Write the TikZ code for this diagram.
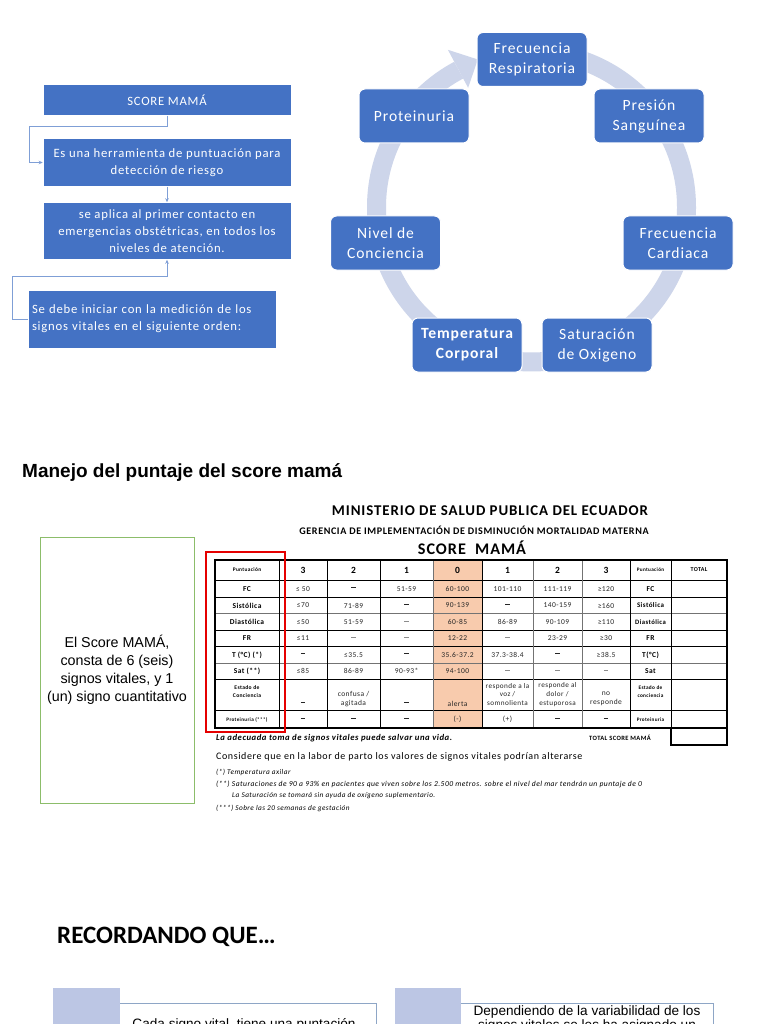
\documentclass[tikz,border=0pt]{standalone}
\usepackage{fontspec}
\setmainfont{Carlito}[LetterSpace=6]
\newfontfamily\arialf{Liberation Sans}
\usetikzlibrary{arrows.meta}
\definecolor{obl}{HTML}{4472C4}
\definecolor{ringc}{HTML}{CDD5EA}
\definecolor{connc}{HTML}{7F9FD6}
\definecolor{orng}{HTML}{F8CBAD}
\definecolor{grn}{HTML}{8CBD6A}
\definecolor{lav}{HTML}{BCC6E4}
\definecolor{bbord}{HTML}{8EA6C6}
\newcommand\dsh{\rule[2.3pt]{4.2pt}{1pt}}
\newcommand\dshl{\textcolor{black!45}{\rule[2.3pt]{4.2pt}{0.7pt}}}
\newcommand\trow[3]{\foreach \v [count=\i from 0] in {#3} {\pgfmathsetmacro\xx{{303,353.5,406.5,457.5,507.5,557.5,606}[\i]}\node[tval] (r#1c\i) at (\xx,#2) {\v};}}
\begin{document}
\begin{tikzpicture}[x=1pt,y=-1pt,
  flowbox/.style={fill=obl, draw=white, line width=0.5pt, text=white, align=center, inner sep=0pt, minimum width=248pt, font=\fontsize{12.7}{17}\selectfont},
  cycbox/.style={fill=obl, draw=white, line width=1pt, rounded corners=6pt, text=white, align=center, inner sep=0pt, minimum width=110pt, minimum height=54pt, font=\fontsize{15.6}{20}\selectfont},
  conn/.style={draw=connc, line width=0.9pt, -{Stealth[length=4pt,width=3.5pt]}},
  ringline/.style={draw=ringc, line width=19pt},
  tval/.style={font=\fontsize{7.5}{8.6}\selectfont, inner sep=0pt, align=center, text=black!85},
  tlab/.style={font=\bfseries\fontsize{7.5}{8.6}\selectfont, inner sep=0pt, align=center},
  tsmall/.style={font=\bfseries\fontsize{5.6}{8}\selectfont, inner sep=0pt, align=center},
  thead/.style={font=\bfseries\fontsize{9.5}{10}\selectfont, inner sep=0pt},
  note/.style={anchor=west, inner sep=0pt, font=\itshape\fontsize{7.3}{8}\selectfont}]
\useasboundingbox (0,0) rectangle (768,1024);
\clip (0,0) rectangle (768,1024);
\fill[white] (0,0) rectangle (768,1024);

% ---------- left flow ----------
\node[flowbox] (b1) [minimum height=31pt] at (167,100) {SCORE MAMÁ};
\node[flowbox, minimum height=48pt] (b2) at (167,162.5) {Es una herramienta de puntuación para\\detección de riesgo};
\node[flowbox, minimum height=57pt] (b3) at (167,231) {se aplica al primer contacto en\\emergencias obstétricas, en todos los\\niveles de atención.};
\node[flowbox, minimum height=58pt, minimum width=0pt, text width=240pt, align=left, inner xsep=4pt] (b4) at (152,319) {Se debe iniciar con la medición de los\\signos vitales en el siguiente orden:};
\draw[conn] (b1.south) -- ++(0,11) -| ([xshift=-13pt]b2.west) -- (b2.west);
\draw[conn] (b2.south) -- (b3.north);
\draw[conn] (b4.west) -- ++(-15,0) |- ([yshift=-17pt]b3.south) -- (b3.south);

% ---------- cycle ----------
\coordinate (C) at (531.5,207);
\draw[ringline] ([shift={(-88:155)}]C) arc[start angle=-88, end angle=242, radius=155];
\fill[ringc] ([shift={(242:135)}]C) -- ([shift={(242:178)}]C) -- ([shift={(250:157)}]C) -- cycle;
\node[cycbox] (fr) at (532,59.5) {Frecuencia\\Respiratoria};
\node[cycbox] (ps) at (649,116) {Presión\\Sanguínea};
\node[cycbox] (fc) at (678,243) {Frecuencia\\Cardiaca};
\node[cycbox] (so) at (597,345) {Saturación\\de Oxigeno};
\node[cycbox, font=\bfseries\fontsize{15.6}{20}\selectfont] (tc) at (467,345) {Temperatura\\Corporal};
\node[cycbox] (nc) at (385.5,243) {Nivel de\\Conciencia};
\node[cycbox] (pr) at (414,116) {Proteinuria};

% ---------- section 2 ----------
\node[anchor=west, inner sep=0pt, font=\arialf\bfseries\fontsize{19}{22}\selectfont] (t2) at (22,472) {Manejo del puntaje del score mamá};
\node[draw=grn, line width=0.7pt, minimum width=154pt, minimum height=266pt, align=center, font=\arialf\fontsize{14.3}{18}\selectfont] (gb) at (117,670) {El Score MAMÁ,\\consta de 6 (seis)\\signos vitales, y 1\\(un) signo cuantitativo};

\node[inner sep=0pt, font=\bfseries\fontsize{14.9}{16}\selectfont] (m1) at (490,511) {MINISTERIO DE SALUD PUBLICA DEL ECUADOR};
\node[inner sep=0pt, font=\bfseries\fontsize{10.1}{11}\selectfont] (m2) at (474,530) {GERENCIA DE IMPLEMENTACIÓN DE DISMINUCIÓN MORTALIDAD MATERNA};
\node[inner sep=0pt, font=\bfseries\fontsize{16.2}{19}\selectfont] (m3) at (472,548) {SCORE\ \ MAMÁ};

% table
\fill[orng] (433,560) rectangle (482,728);
\foreach \yy in {580.5,597,630,646.5,679,710} \draw[line width=0.7pt] (215,\yy) -- (727,\yy);
\foreach \yy in {613.5,663} \draw[line width=0.5pt, black!55] (215,\yy) -- (727,\yy);
\foreach \xx in {279,327,380,482,630,671} \draw[line width=0.7pt] (\xx,560) -- (\xx,728);
\foreach \xx in {433,533,582} \draw[line width=0.5pt, black!55] (\xx,560) -- (\xx,728);
\draw[line width=1.3pt] (215,560) rectangle (727,728);
\draw[line width=1.3pt] (671,728) rectangle (727,745);

\node[tsmall, font=\bfseries\fontsize{5.4}{7}\selectfont] (h0) at (247,570) {Puntuación};
\foreach \v [count=\i from 0] in {3,2,1,0,1,2,3} {\pgfmathsetmacro\xx{{303,353.5,406.5,457.5,507.5,557.5,606}[\i]}\node[thead] (hc\i) at (\xx,570) {\v};}
\node[tsmall, font=\bfseries\fontsize{5.2}{7}\selectfont] (h8) at (650.5,570) {Puntuación};
\node[tsmall, font=\bfseries\fontsize{6}{7}\selectfont] (h9) at (699,570) {TOTAL};

\node[tlab] (l1) at (247,589) {FC};
\trow{1}{589}{≤ 50,\dsh,51-59,60-100,101-110,111-119,≥120}
\node[tlab] (k1) at (650.5,589) {FC};
\node[tlab] (l2) at (247,605.5) {Sistólica};
\trow{2}{605.5}{≤70,71-89,\dsh,90-139,\dsh,140-159,≥160}
\node[tlab, font=\bfseries\fontsize{7}{8}\selectfont] (k2) at (650.5,605.5) {Sistólica};
\node[tlab] (l3) at (247,622) {Diastólica};
\trow{3}{622}{≤50,51-59,\dshl,60-85,86-89,90-109,≥110}
\node[tlab, font=\bfseries\fontsize{6.7}{8}\selectfont] (k3) at (650.5,622) {Diastólica};
\node[tlab] (l4) at (247,638.5) {FR};
\trow{4}{638.5}{≤11,\dshl,\dshl,12-22,\dshl,23-29,≥30}
\node[tlab] (k4) at (650.5,638.5) {FR};
\node[tlab] (l5) at (247,655) {T (°C) (*)};
\trow{5}{655}{\dsh,≤35.5,\dsh,35.6-37.2,37.3-38.4,\dsh,≥38.5}
\node[tlab] (k5) at (650.5,655) {T(°C)};
\node[tlab] (l6) at (247,671) {Sat (**)};
\trow{6}{671}{≤85,86-89,90-93*,94-100,\dshl,\dshl,\dshl}
\node[tlab] (k6) at (650.5,671) {Sat};

\node[tsmall] (l7) at (247,692) {Estado de\\Conciencia};
\node[tval] (e2) at (303,703.5) {\dsh};
\node[tval] (e3) at (353.5,699) {confusa /\\agitada};
\node[tval] (e4) at (406.5,703.5) {\dsh};
\node[tval] (e5) at (457.5,704) {alerta};
\node[tval, font=\fontsize{7.2}{8.6}\selectfont] (e6) at (507.5,694.5) {responde a la\\voz /\\somnolienta};
\node[tval, font=\fontsize{7.2}{8.6}\selectfont] (e7) at (557.5,694.5) {responde al\\dolor /\\estuporosa};
\node[tval] (e8) at (606,699) {no\\responde};
\node[tsmall, font=\bfseries\fontsize{5.3}{8}\selectfont] (k7) at (650.5,692) {Estado de\\conciencia};

\node[tsmall, font=\bfseries\fontsize{5.2}{8}\selectfont] (l8) at (247,719.5) {Proteinuria (***)};
\trow{8}{719.5}{\dsh,\dsh,\dsh,(-),(+),\dsh,\dsh}
\node[tsmall, font=\bfseries\fontsize{5.2}{8}\selectfont] (k8) at (650.5,719.5) {Proteinuria};

\node[tsmall, font=\bfseries\fontsize{6.5}{8}\selectfont] (tt) at (620,738) {TOTAL SCORE MAMÁ};
\node[anchor=west, inner sep=0pt, font=\bfseries\itshape\fontsize{8.7}{10}\selectfont] (n1) at (216,738) {La adecuada toma de signos vitales puede salvar una vida.};
\node[anchor=west, inner sep=0pt, font=\fontsize{10}{11}\selectfont] (n2) at (216,757) {Considere que en la labor de parto los valores de signos vitales podrían alterarse};
\node[note] (n3) at (216,772) {(*) Temperatura axilar};
\node[note, font=\itshape\fontsize{7.6}{8}\selectfont] (n4) at (216,784) {(**) Saturaciones de 90 a 93\% en pacientes que viven sobre los 2.500 metros. sobre el nivel del mar tendrán un puntaje de 0};
\node[note] (n5) at (232,796) {La Saturación se tomará sin ayuda de oxígeno suplementario.};
\node[note] (n6) at (216,808) {(***) Sobre las 20 semanas de gestación};

% red frame
\draw[red!90!black, line width=2pt] (205.5,552) rectangle (285,732);

% ---------- section 3 ----------
\node[anchor=west, inner sep=0pt, font=\bfseries\fontsize{25}{27}\selectfont\addfontfeature{LetterSpace=0}] (t3) at (57,937) {RECORDANDO QUE…};
\draw[bbord, fill=white, line width=0.8pt] (100,1003) rectangle (376,1070);
\draw[bbord, fill=white, line width=0.8pt] (440,1003) rectangle (713,1070);
\fill[lav] (53,988) rectangle (120,1060);
\fill[lav] (395,988) rectangle (461,1060);
\node[inner sep=0pt, font=\arialf\fontsize{13.6}{14}\selectfont] (x1) at (244,1025) {Cada signo vital, tiene una puntación};
\node[inner sep=0pt, align=center, font=\arialf\fontsize{13.6}{14}\selectfont, anchor=north] (x2) at (587,1005) {Dependiendo de la variabilidad de los\\signos vitales se les ha asignado un};
\end{tikzpicture}
\end{document}
